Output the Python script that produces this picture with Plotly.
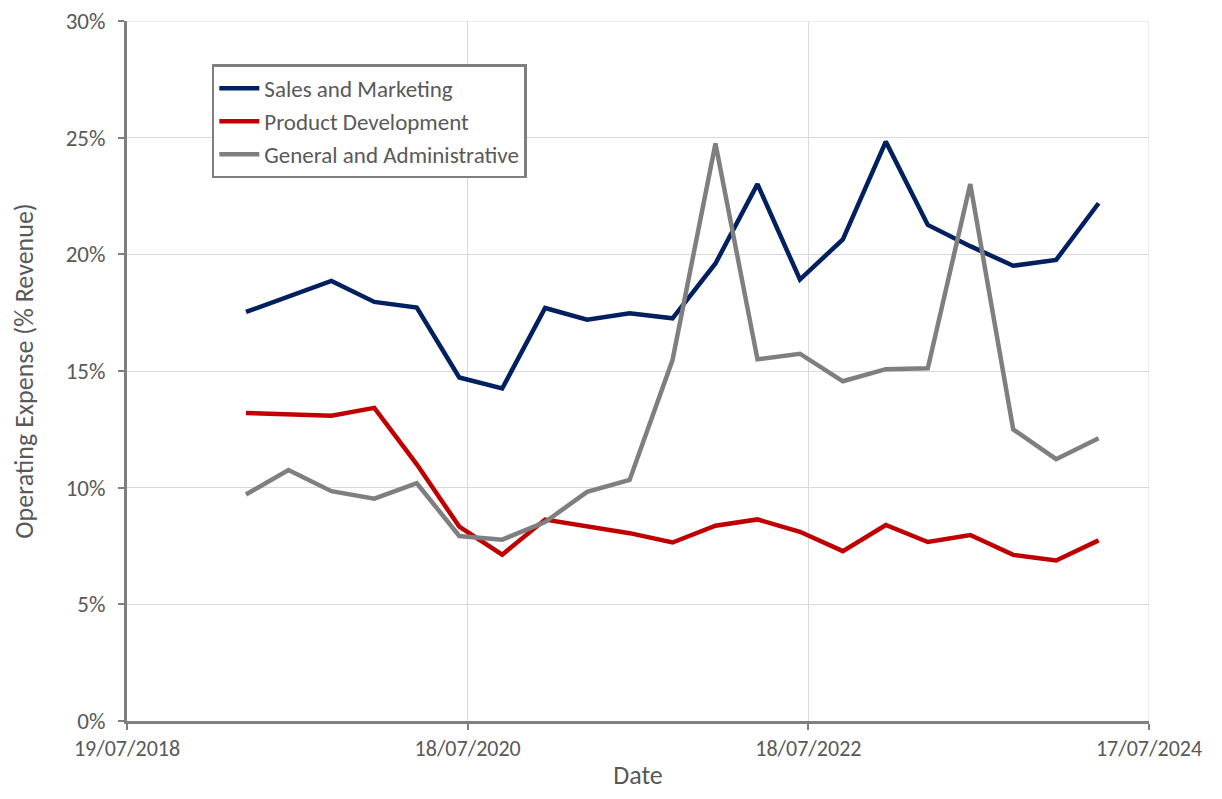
import plotly.graph_objects as go

dates = ["2019-03-31", "2019-06-30", "2019-09-30", "2019-12-31",
         "2020-03-31", "2020-06-30", "2020-09-30", "2020-12-31",
         "2021-03-31", "2021-06-30", "2021-09-30", "2021-12-31",
         "2022-03-31", "2022-06-30", "2022-09-30", "2022-12-31",
         "2023-03-31", "2023-06-30", "2023-09-30", "2023-12-31",
         "2024-03-31"]

sales_marketing = [17.53, 18.2, 18.86, 17.96, 17.72, 14.72, 14.25, 17.7, 17.2, 17.47,
                   17.26, 19.61, 23.01, 18.92, 20.64, 24.83, 21.26, 20.35, 19.51, 19.76, 22.19]
product_dev = [13.2, 13.16, 13.08, 13.42, 11.0, 8.33, 7.13, 8.63, 8.33, 8.05,
               7.65, 8.37, 8.64, 8.11, 7.28, 8.4, 7.67, 7.97, 7.12, 6.88, 7.74]
general_admin = [9.71, 10.76, 9.85, 9.53, 10.19, 7.93, 7.77, 8.53, 9.82, 10.33,
                 15.47, 24.75, 15.5, 15.74, 14.56, 15.08, 15.12, 23.01, 12.5, 11.22, 12.12]

series_names = ["Sales and Marketing", "Product Development", "General and Administrative"]
series_colors = ["#002060", "#C00000", "#7F7F7F"]

x_tick_vals = ["2018-07-19", "2020-07-18", "2022-07-18", "2024-07-17"]
x_tick_text = ["19/07/2018", "18/07/2020", "18/07/2022", "17/07/2024"]
y_tick_vals = [0, 5, 10, 15, 20, 25, 30]
y_tick_text = ["0%", "5%", "10%", "15%", "20%", "25%", "30%"]

font_family = "Carlito, Calibri, Lato, sans-serif"
text_color = "#595959"
grid_color = "#D9D9D9"

fig = go.Figure()
for name, vals, col in zip(series_names, [sales_marketing, product_dev, general_admin], series_colors):
    fig.add_trace(go.Scatter(x=dates, y=vals, mode="lines", name=name,
                             line=dict(color=col, width=4.5)))

# gridlines at the far edges of the axis ranges (plotly skips them at the plot border)
fig.add_shape(type="line", xref="paper", yref="y", x0=0, x1=1,
              y0=y_tick_vals[-1], y1=y_tick_vals[-1],
              line=dict(color=grid_color, width=1), layer="below")
fig.add_shape(type="line", xref="x", yref="paper", x0=x_tick_vals[-1], x1=x_tick_vals[-1],
              y0=0, y1=1, line=dict(color=grid_color, width=1), layer="below")

fig.update_layout(
    width=1206, height=783,
    margin=dict(l=119, r=65, t=13, b=70),
    paper_bgcolor="white", plot_bgcolor="white",
    font=dict(family=font_family, color=text_color, size=21),
    showlegend=True,
    legend=dict(x=0.083, y=0.938, xanchor="left", yanchor="top",
                bgcolor="white", bordercolor="#7F7F7F", borderwidth=2.5,
                font=dict(size=23, color=text_color),
                tracegroupgap=0, itemwidth=40),
)
fig.update_xaxes(
    type="date", range=[x_tick_vals[0], x_tick_vals[-1]],
    tickmode="array", tickvals=x_tick_vals, ticktext=x_tick_text,
    showgrid=True, gridcolor=grid_color, gridwidth=1,
    showline=True, linecolor="#7F7F7F", linewidth=3,
    ticks="outside", ticklen=6, tickwidth=2, tickcolor="#7F7F7F",
    tickfont=dict(size=22, color=text_color), ticklabeloverflow="allow",
    title=dict(text="Date", font=dict(size=26, color=text_color), standoff=20),
    zeroline=False, automargin=False,
)
fig.update_yaxes(
    range=[0, 30], tickmode="array", tickvals=y_tick_vals, ticktext=y_tick_text,
    showgrid=True, gridcolor=grid_color, gridwidth=1,
    showline=True, linecolor="#7F7F7F", linewidth=3,
    ticks="outside", ticklen=6, tickwidth=2, tickcolor="#7F7F7F",
    tickfont=dict(size=23, color=text_color), ticklabelstandoff=8,
    ticklabeloverflow="allow",
    title=dict(text="Operating Expense (% Revenue)", font=dict(size=26, color=text_color), standoff=35),
    zeroline=False, automargin=False,
)

fig.write_html("out.html")
